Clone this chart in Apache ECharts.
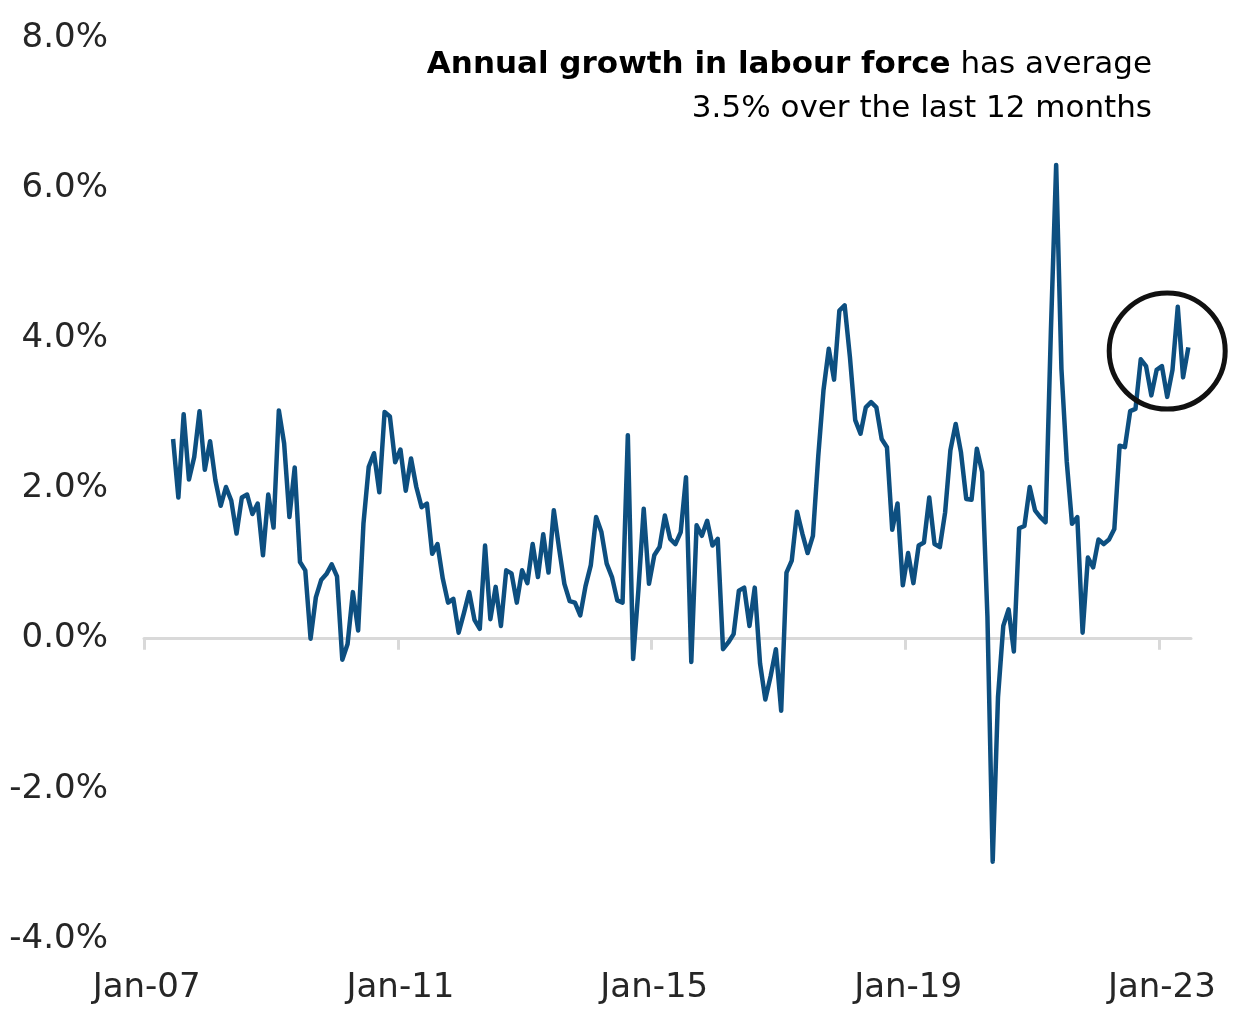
<!DOCTYPE html>
<html>
<head>
<meta charset="utf-8">
<title>Annual growth in labour force</title>
<script src="https://cdn.jsdelivr.net/npm/echarts@6/dist/echarts.min.js"></script>
<style>
  html, body { margin: 0; padding: 0; background: #ffffff; }
  #chart { width: 1250px; height: 1025px; }
</style>
</head>
<body>
<div id="chart"></div>
<script>
// month labels, Jan-07 .. Jul-23
const monthNames = ['Jan', 'Feb', 'Mar', 'Apr', 'May', 'Jun', 'Jul', 'Aug', 'Sep', 'Oct', 'Nov', 'Dec']
const allMonths = []
for (let y = 2007; y <= 2023; y++) {
  for (let m = 0; m < 12; m++) {
    if (y === 2023 && m > 6) break
    allMonths.push(monthNames[m] + '-' + String(y).slice(2))
  }
}
// one band per month up to Jun-23; the tick axis needs the boundary after it
const categories = allMonths.slice(0, allMonths.length - 1)
const tickCategories = allMonths

// annual growth in labour force (%), monthly from Jun-07
const firstMonth = 'Jun-07'
const growth = [
  2.66, 1.88, 2.99, 2.12, 2.42, 3.03, 2.25, 2.63, 2.11, 1.77, 2.02, 1.84, 1.40, 1.88, 1.92, 1.66, 1.80, 1.11, 1.92, 1.48,
  3.04, 2.60, 1.62, 2.28, 1.02, 0.91, 0.00, 0.55, 0.78, 0.86, 0.99, 0.83, -0.28, -0.07, 0.62, 0.11, 1.53, 2.29, 2.47, 1.95,
  3.02, 2.96, 2.35, 2.52, 1.97, 2.40, 2.02, 1.75, 1.80, 1.13, 1.26, 0.80, 0.48, 0.53, 0.08, 0.34, 0.62, 0.25, 0.13, 1.24,
  0.26, 0.69, 0.17, 0.91, 0.87, 0.48, 0.91, 0.74, 1.26, 0.82, 1.39, 0.88, 1.71, 1.20, 0.73, 0.50, 0.48, 0.31, 0.70, 0.98,
  1.62, 1.42, 1.00, 0.82, 0.51, 0.48, 2.71, -0.27, 0.65, 1.73, 0.73, 1.11, 1.22, 1.64, 1.33, 1.26, 1.42, 2.15, -0.31, 1.51,
  1.37, 1.57, 1.24, 1.33, -0.14, -0.05, 0.06, 0.64, 0.68, 0.17, 0.68, -0.33, -0.81, -0.50, -0.14, -0.96, 0.88, 1.04, 1.69, 1.40,
  1.14, 1.37, 2.42, 3.31, 3.86, 3.45, 4.37, 4.44, 3.75, 2.91, 2.73, 3.08, 3.15, 3.08, 2.66, 2.55, 1.45, 1.80, 0.71, 1.14,
  0.74, 1.24, 1.28, 1.88, 1.26, 1.22, 1.68, 2.51, 2.86, 2.48, 1.86, 1.85, 2.53, 2.22, 0.30, -2.97, -0.78, 0.17, 0.39, -0.17,
  1.47, 1.50, 2.02, 1.71, 1.62, 1.55, 4.09, 6.31, 3.59, 2.36, 1.53, 1.62, 0.08, 1.08, 0.95, 1.32, 1.26, 1.32, 1.46, 2.57,
  2.55, 3.03, 3.06, 3.72, 3.63, 3.24, 3.58, 3.63, 3.22, 3.58, 4.42, 3.48, 3.88
]

// y axis ticks
const yMin = -4
const yMax = 8
const yStep = 2

// highlight circle around the last 12 months
const circleAt = ['Feb-23', 3.83]

const offset = categories.indexOf(firstMonth)
const lineData = categories.map((c, k) => (k < offset ? null : growth[k - offset]))

const font = 'DejaVu Sans'
const textColor = '#262626'

const chart = echarts.init(document.getElementById('chart'))

chart.setOption({
  animation: false,
  title: {
    text: '{b|Annual growth in labour force} has average\n3.5% over the last 12 months',
    left: 1147,
    top: 38,
    textAlign: 'right',
    textStyle: {
      fontFamily: font,
      fontSize: 31,
      fontWeight: 'normal',
      color: '#000',
      lineHeight: 44,
      rich: {
        b: { fontFamily: font, fontSize: 31, fontWeight: 'bold', color: '#000', lineHeight: 44 }
      }
    }
  },
  grid: {
    left: 144,
    right: 59,
    top: 38,
    bottom: 86,
    containLabel: false
  },
  xAxis: [
    {
      // bands for the series, labels at the bottom
      type: 'category',
      data: categories,
      boundaryGap: true,
      position: 'bottom',
      axisLine: { show: false, onZero: false },
      axisTick: { show: false },
      axisLabel: {
        interval: 47,
        margin: 32,
        color: textColor,
        fontFamily: font,
        fontSize: 34
      }
    },
    {
      // zero line with ticks at the start of each labelled year
      type: 'category',
      data: tickCategories,
      boundaryGap: false,
      position: 'bottom',
      axisLine: { show: true, onZero: true, lineStyle: { color: '#d9d9d9', width: 3 } },
      axisTick: { show: true, interval: 47, length: 11, lineStyle: { color: '#d9d9d9', width: 3 } },
      axisLabel: { show: false }
    }
  ],
  yAxis: {
    type: 'value',
    min: yMin,
    max: yMax,
    interval: yStep,
    axisLine: { show: false },
    axisTick: { show: false },
    splitLine: { show: false },
    axisLabel: {
      margin: 36,
      color: textColor,
      fontFamily: font,
      fontSize: 34,
      formatter: (v) => v.toFixed(1) + '%'
    }
  },
  series: [
    {
      name: 'Annual growth in labour force',
      type: 'line',
      xAxisIndex: 0,
      data: lineData,
      showSymbol: false,
      symbol: 'none',
      lineStyle: { color: '#0d4f80', width: 4.5, join: 'round' },
      markPoint: {
        silent: true,
        symbol: 'circle',
        symbolSize: 116,
        label: { show: false },
        itemStyle: { color: 'rgba(0,0,0,0)', borderColor: '#111111', borderWidth: 5 },
        data: [{ coord: circleAt }]
      }
    }
  ]
})
</script>
</body>
</html>
